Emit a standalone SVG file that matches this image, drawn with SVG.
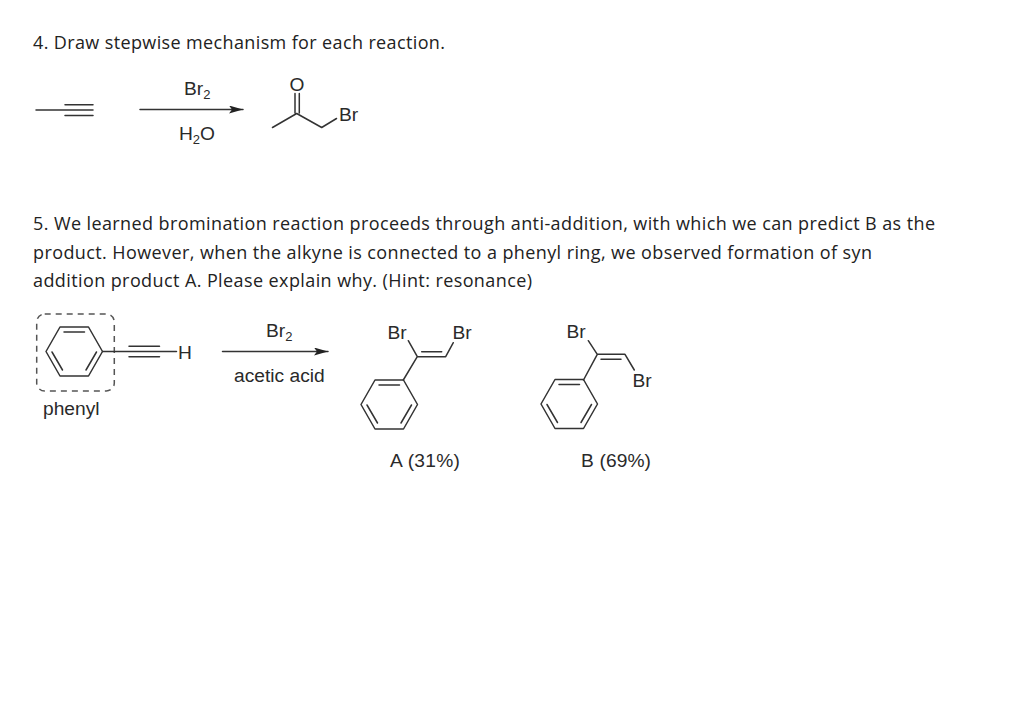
<svg xmlns="http://www.w3.org/2000/svg" width="1012" height="712" viewBox="0 0 1012 712">
<style>
.p{font-family:"Open Sans","Noto Sans",sans-serif;font-size:18px;fill:#222}
.c{font-family:"Liberation Sans",Arial,sans-serif;font-size:19.2px;fill:#2a2a2a}
.s{font-size:13px}
.b{fill:none;stroke:#333;stroke-width:1.5;stroke-linecap:round;stroke-linejoin:round}
.d{fill:none;stroke:#555;stroke-width:1.5;stroke-dasharray:6 5}
</style>
<defs>
<marker id="ah" markerUnits="userSpaceOnUse" markerWidth="14" markerHeight="8" refX="14" refY="4" orient="auto"><path d="M0 0L14 4L0 8L3 4Z" fill="#222"/></marker>
<g id="ring"><path class="b" d="M0 24.5L14 0H42.5L56.5 24.500L42.5 49H14Z"/><path class="b" d="M18 5H38.500M6 25L16.500 43M40 43L50.500 25"/></g>
</defs>
<rect width="1012" height="712" fill="#fff"/>
<g id="question-text">
<text class="p" x="33" y="49" textLength="412">4. Draw stepwise mechanism for each reaction.</text>
<text class="p" x="33" y="230" textLength="902">5. We learned bromination reaction proceeds through anti-addition, with which we can predict B as the</text>
<text class="p" x="33" y="259" textLength="839">product. However, when the alkyne is connected to a phenyl ring, we observed formation of syn</text>
<text class="p" x="33" y="287" textLength="499">addition product A. Please explain why. (Hint: resonance)</text>
</g>
<g id="connectors">
<path class="b" d="M140 109.500H243" marker-end="url(#ah)"/>
<path class="b" d="M222.500 351.500H328" marker-end="url(#ah)"/>
</g>
<g id="propyne"><path class="b" d="M36 110H93M65 104.700H93M65 115.500H93"/></g>
<g id="reagents-1">
<text class="c" x="184" y="95">Br<tspan class="s" dy="4">2</tspan></text>
<text class="c" x="179" y="140">H<tspan class="s" dy="4">2</tspan><tspan dy="-4">O</tspan></text>
</g>
<g id="bromoacetone">
<path class="b" d="M272.500 127.500L296.700 113.500L321.700 127.500L336.500 118.500M295 113V93.500M299.300 113V93.500"/>
<text class="c" x="289.500" y="91">O</text>
<text class="c" x="339" y="121">Br</text>
</g>
<g id="phenylacetylene">
<rect class="d" x="36.700" y="314" width="77.600" height="77" rx="8"/>
<use href="#ring" x="46" y="327"/>
<path class="b" d="M102.500 351.500H176.500M129 346.300H159.500M129 356.700H159.500"/>
<text class="c" x="178" y="359">H</text>
<text class="c" x="43" y="415">phenyl</text>
</g>
<g id="reagents-2">
<text class="c" x="266" y="337">Br<tspan class="s" dy="4">2</tspan></text>
<text class="c" x="234" y="382">acetic acid</text>
</g>
<g id="product-a">
<use href="#ring" x="361" y="380"/>
<path class="b" d="M403.300 380L417.300 356.700H445.700L453.300 342.700M421.700 351.700H441.700M417.300 356.700L408.300 340.700"/>
<text class="c" x="387.500" y="339">Br</text>
<text class="c" x="452.500" y="339">Br</text>
<text class="c" x="390" y="467" textLength="70">A (31%)</text>
</g>
<g id="product-b">
<use href="#ring" x="541" y="379.500"/>
<path class="b" d="M583.500 380L597.300 354.300H625L634.300 370M601 359.300H621M597.300 354.300L588.300 340.700"/>
<text class="c" x="566.500" y="338">Br</text>
<text class="c" x="632.500" y="386.500">Br</text>
<text class="c" x="581" y="467" textLength="70">B (69%)</text>
</g>
</svg>
